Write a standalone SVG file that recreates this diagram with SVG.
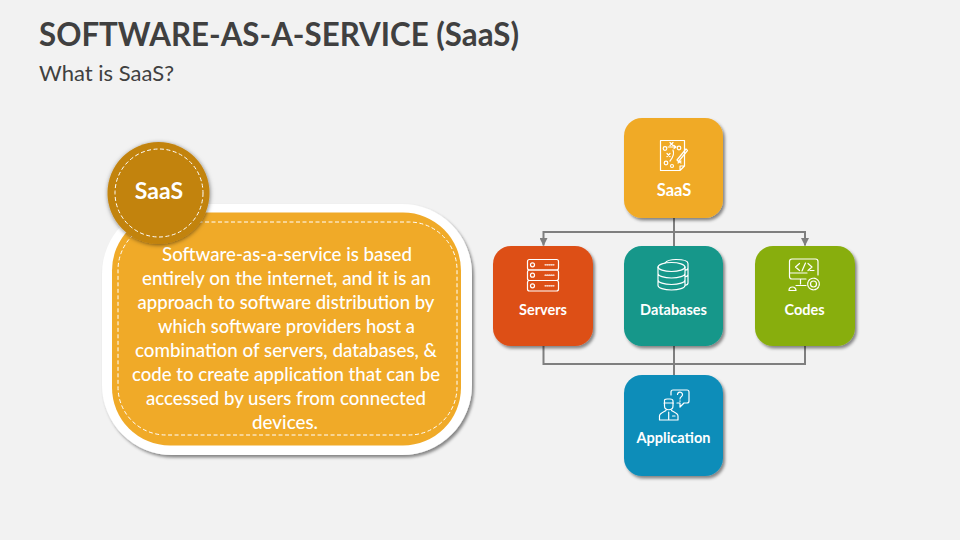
<svg xmlns="http://www.w3.org/2000/svg" width="960" height="540" viewBox="0 0 960 540">
<style>
text{font-family:"Lato","Open Sans","Liberation Sans",sans-serif;fill:#fff;text-anchor:middle}
.title{font-size:33px;font-weight:700;fill:#404040;text-anchor:start}
.sub{font-size:21.5px;fill:#404040;text-anchor:start}
.body{font-size:19.5px;font-weight:500}
.lbl{font-size:14.5px;font-weight:700}
.conn{fill:none;stroke:#7f7f7f;stroke-width:2}
.ic{fill:none;stroke:#fff;stroke-width:1.2;stroke-linecap:round;stroke-linejoin:round}
.d{fill:none;stroke:#fff;stroke-width:1;stroke-dasharray:4 2.5}
</style>
<defs>
<filter id="sh" x="-20%" y="-20%" width="140%" height="140%"><feDropShadow dx="2" dy="2.5" stdDeviation="1.8" flood-color="#000" flood-opacity=".45"/></filter>
<filter id="sc" x="-20%" y="-20%" width="140%" height="140%"><feDropShadow dx="0.5" dy="1" stdDeviation="2" flood-color="#000" flood-opacity=".5"/></filter>
<marker id="ah" viewBox="0 0 8 8" refX="7.5" refY="4" markerWidth="8" markerHeight="8" markerUnits="userSpaceOnUse" orient="auto"><path d="M0 0L8 4L0 8Z" fill="#7f7f7f"/></marker>
</defs>
<rect width="960" height="540" fill="#f2f2f2"/>
<text class="title" x="39" y="46" textLength="480" lengthAdjust="spacingAndGlyphs">SOFTWARE-AS-A-SERVICE (SaaS)</text>
<text class="sub" x="39" y="81" textLength="135" lengthAdjust="spacingAndGlyphs">What is SaaS?</text>

<g id="connectors">
<path class="conn" d="M674 218V232"/>
<path class="conn" d="M674 232H543.500V245.500" marker-end="url(#ah)"/>
<path class="conn" d="M674 232H805V245.500" marker-end="url(#ah)"/>
<path class="conn" d="M674 232V246"/>
<path class="conn" d="M543.500 346V364H805V346"/>
<path class="conn" d="M674 346V375"/>
</g>

<g id="card">
<rect x="102" y="204" width="370" height="251" rx="70" fill="#fff" filter="url(#sh)"/>
<rect x="112" y="212.500" width="349" height="233" rx="58" fill="#f0aa28"/>
<rect x="118" y="222" width="339" height="213" rx="48" class="d"/>
<text class="body" x="287" y="261" textLength="250" lengthAdjust="spacingAndGlyphs">Software-as-a-service is based</text>
<text class="body" x="286.500" y="285" textLength="289" lengthAdjust="spacingAndGlyphs">entirely on the internet, and it is an</text>
<text class="body" x="286" y="309" textLength="297" lengthAdjust="spacingAndGlyphs">approach to software distribution by</text>
<text class="body" x="286.500" y="333" textLength="257" lengthAdjust="spacingAndGlyphs">which software providers host a</text>
<text class="body" x="286" y="357" textLength="302" lengthAdjust="spacingAndGlyphs">combination of servers, databases, &amp;</text>
<text class="body" x="286" y="381" textLength="308" lengthAdjust="spacingAndGlyphs">code to create application that can be</text>
<text class="body" x="286" y="405" textLength="280" lengthAdjust="spacingAndGlyphs">accessed by users from connected</text>
<text class="body" x="285" y="429" textLength="66" lengthAdjust="spacingAndGlyphs">devices.</text>
</g>

<g id="badge">
<circle cx="158.500" cy="193" r="51" fill="#c2830f" filter="url(#sc)"/>
<circle cx="159" cy="193" r="44" class="d"/>
<text x="159" y="198.500" font-size="23" font-weight="700">SaaS</text>
</g>

<g id="node-saas">
<rect x="624" y="118" width="99" height="100" rx="18" fill="#f0aa28" filter="url(#sh)"/>
<path class="ic" d="M660.500 140.500H684.500V166L680 170.500H660.500ZM680 170.500V166H684.500"/>
<circle class="ic" cx="665" cy="148.500" r="1.800"/><circle class="ic" cx="679" cy="148" r="1.800"/><circle class="ic" cx="666" cy="163" r="1.800"/><circle class="ic" cx="672" cy="166" r="1.500"/>
<path class="ic" d="M670 142.500l3 3m0-3l-3 3M667 153.500l3 3m0-3l-3 3M678 161l3 2m0-2l-3 2M668 147H676M674 145.500l2 1.500-2 1.500M670 161Q675 155 673 150M677 160L686 149l1.500 1.500L678.500 161.500Z"/>
<text x="674" y="195.500" font-size="16.500" font-weight="700">SaaS</text>
</g>

<g id="node-servers">
<rect x="493" y="246" width="100" height="100" rx="18" fill="#dd4f18" filter="url(#sh)"/>
<rect class="ic" x="527.500" y="259.500" width="31" height="10.500" rx="2"/><rect class="ic" x="527.500" y="270" width="31" height="10.500" rx="2"/><rect class="ic" x="527.500" y="280.500" width="31" height="10.500" rx="2"/>
<circle class="ic" cx="532.500" cy="264.800" r="2"/><circle class="ic" cx="532.500" cy="275.200" r="2"/><circle class="ic" cx="532.500" cy="285.800" r="2"/>
<path class="ic" d="M545 264.800h10M545 275.200h10M545 285.800h10" stroke-dasharray="1 1" stroke-width=".9"/>
<text class="lbl" x="543" y="315">Servers</text>
</g>

<g id="node-databases">
<rect x="624" y="246" width="99" height="100" rx="18" fill="#12978a" filter="url(#sh)"/>
<ellipse class="ic" cx="671.500" cy="267" rx="13.500" ry="4.500"/>
<path class="ic" d="M658 267V285.500C658 288 664 290 671.500 290S685 288 685 285.500V267M658 273.500C658 276 664 278 671.500 278S685 276 685 273.500M658 280C658 282.500 664 284.500 671.500 284.500S685 282.500 685 280M665 263C667 260.500 672 259.500 676 259.500C683 259.500 688 261 688 263.500V283C688 284 687 285 685 285.500M685 270.500C687 270 688 269 688 268M685 277C687 276.500 688 275.500 688 274.500"/>
<text class="lbl" x="673.500" y="315">Databases</text>
</g>

<g id="node-codes">
<rect x="755" y="246" width="100" height="100" rx="18" fill="#88ae11" filter="url(#sh)"/>
<path class="ic" d="M806 279H792A2.500 2.500 0 0 1 789.500 276.500V261.500A2.500 2.500 0 0 1 792 259H815.500A2.500 2.500 0 0 1 818 261.500V275M789.500 273H807M800.500 279V284M796 285.500H806M799.500 263.500L795.500 267L799.500 270.500M805.500 263L802 271M808 263.500L812 267L808 270.500M810 270.500H814" />
<circle class="ic" cx="813.500" cy="284" r="3"/><circle class="ic" cx="813.500" cy="284" r="5.800" stroke-dasharray="2 1" stroke-width="1.500"/>
<path class="ic" d="M789 290.500a3.500 3.500 0 0 1 7 0Z" fill="#fff"/>
<text class="lbl" x="804.500" y="315">Codes</text>
</g>

<g id="node-application">
<rect x="624" y="375" width="99" height="101" rx="18" fill="#0f8db9" filter="url(#sh)"/>
<path class="ic" d="M671 395V392A2 2 0 0 1 673 390H687A2 2 0 0 1 689 392V401A2 2 0 0 1 687 403H684L680 407V403H677"/>
<path class="ic" d="M677.500 394.500a2.500 2.500 0 1 1 3.800 2.200q-1.300.8-1.300 2.300M680 400.800v.5"/>
<path class="ic" d="M664.500 401Q664 399 667 399H670Q673 399 673 401V406C673 411 664.500 411 664.500 406ZM664 403H673.500M659.500 420V416C659.500 413 664 412 666 410.500M678 420V416C678 413 673.500 412 671.500 410.500M659.500 420H678M668.700 412V420M672.500 416H675"/>
<text class="lbl" x="673.500" y="443">Application</text>
</g>
</svg>
